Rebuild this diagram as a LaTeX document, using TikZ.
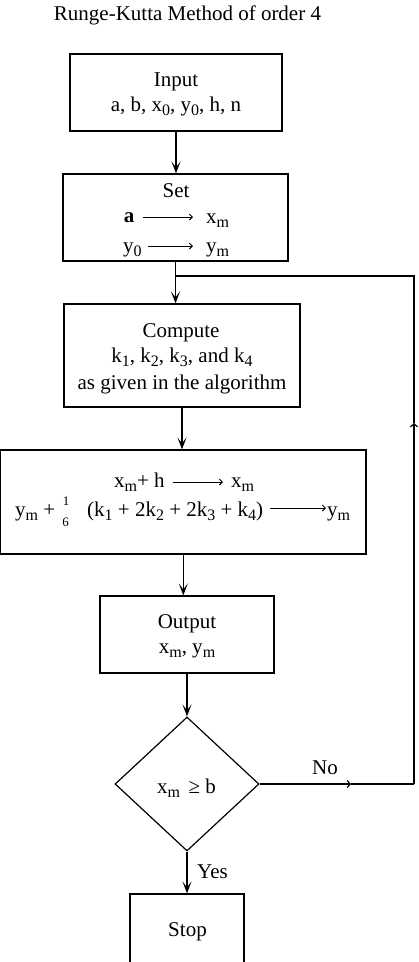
\documentclass[tikz,border=0pt]{standalone}
\usepackage{fontspec}
\setmainfont{Liberation Serif}
\usetikzlibrary{arrows.meta,shapes.geometric}
\newcommand\sbx[1]{\raisebox{-4pt}{\fontsize{16}{16}\selectfont #1}}
\begin{document}
\begin{tikzpicture}[x=1pt,y=-1pt,
  every node/.style={font=\fontsize{21}{25}\selectfont},
  box/.style={draw,line width=1.2pt,rectangle,inner sep=0pt},
  dbox/.style={draw,line width=1.2pt,diamond,inner sep=0pt},
  tx/.style={inner sep=0pt,text height=10pt,text depth=0pt,anchor=base},
  txw/.style={tx,anchor=base west},
  small/.style={font=\fontsize{13}{13}\selectfont},
  flow/.style={line width=1.2pt,-{Stealth[length=12pt,width=9pt,inset=6pt]}},
  lin/.style={line width=1.2pt},
  thin/.style={line width=0.9pt,-{Straight Barb[length=3pt,width=6pt]}},
  loopar/.style={line width=1.2pt,-{Straight Barb[length=3pt,width=7pt]}}]
\useasboundingbox (0,0) rectangle (419,962);
\clip (0,0) rectangle (419,962);

% title
\node[tx] (title) at (187.5,20) {Runge-Kutta Method of order 4};

% input
\node[box,minimum width=212pt,minimum height=77pt] (input) at (176,92.5) {};
\node[tx] (inA) at (176,86) {Input};
\node[tx] (inB) at (176,111) {a, b, x\sbx{0}, y\sbx{0}, h, n};

% set
\node[box,minimum width=225pt,minimum height=87pt] (set) at (175.5,217.5) {};
\node[tx] (setT) at (176,197) {Set};
\node[tx] (seta) at (129,222) {\textbf{a}};
\node[txw] (setx) at (206,223) {x\sbx{m}};
\node[txw] (sety) at (123,252) {y\sbx{0}};
\node[txw] (setym) at (206,252) {y\sbx{m}};
\draw[thin] ([xshift=9pt]seta.east) -- ([xshift=-13pt]seta.east -| setx.west);
\draw[thin] ([xshift=6pt,yshift=1pt]sety.east) -- ([xshift=-13pt,yshift=1pt]sety.east -| setym.west);

% compute
\node[box,minimum width=236pt,minimum height=103pt] (comp) at (182,355.5) {};
\node[tx] (cA) at (181,337) {Compute};
\node[tx] (cB) at (182,362) {k\sbx{1}, k\sbx{2}, k\sbx{3}, and k\sbx{4}};
\node[tx] (cC) at (182,389) {as given in the algorithm};

% update
\node[box,minimum width=365.4pt,minimum height=104pt] (upd) at (183.3,502) {};
\node[txw] (upx) at (114,487) {x\sbx{m}+ h};
\node[txw] (upxm) at (231,487) {x\sbx{m}};
\draw[thin] ([xshift=8pt]upx.east) -- ([xshift=-8pt]upx.east -| upxm.west);
\node[txw] (upy) at (15,516) {y\sbx{m} +};
\node[tx,small] (num) at (66,505) {1};
\node[tx,small] (den) at (65.5,526) {6};
\node[txw] (upk) at (87,516) {(k\sbx{1} + 2k\sbx{2} + 2k\sbx{3} + k\sbx{4})};
\node[txw] (upym) at (327,516) {y\sbx{m}};
\draw[thin] ([xshift=7pt,yshift=3pt]upk.east) -- ([xshift=-1pt,yshift=3pt]upk.east -| upym.west);

% output
\node[box,minimum width=174pt,minimum height=77pt] (out) at (187,634.5) {};
\node[tx] (oA) at (187,628) {Output};
\node[tx] (oB) at (187,653) {x\sbx{m}, y\sbx{m}};

% decision
\node[dbox,minimum width=144pt,minimum height=134pt] (dia) at (187,784) {};
\node[tx] (dtx) at (186.5,793) {x\sbx{m} \,≥ b};
\node[txw] (no) at (312,774) {No};
\node[txw] (yes) at (197,878) {Yes};

% stop
\node[box,minimum width=114pt,minimum height=110pt] (stop) at (187,949) {};
\node[tx] (stx) at (187.5,936) {Stop};

% flow arrows
\draw[flow] (input.south) -- (input.south |- set.north);
\draw[flow] (set.south) -- (set.south |- comp.north);
\draw[flow] (comp.south) -- (comp.south |- upd.north);
\draw[flow] (upd.south) -- (upd.south |- out.north);
\draw[flow] (out.south) -- (dia.north);
\draw[flow] (dia.south) -- (stop.north);

% loop back
\coordinate (jn) at (176,276);
\coordinate (ctop) at (414,276);
\coordinate (cno) at (414,784);
\coordinate (noarr) at (351,784);
\coordinate (uparr) at (414,423);
\draw[loopar] (dia.east) -- (noarr);
\draw[lin] (noarr) -- (cno);
\draw[loopar] (cno) -- (uparr);
\draw[lin] (uparr) -- (ctop) -- (jn);
\end{tikzpicture}
\end{document}
